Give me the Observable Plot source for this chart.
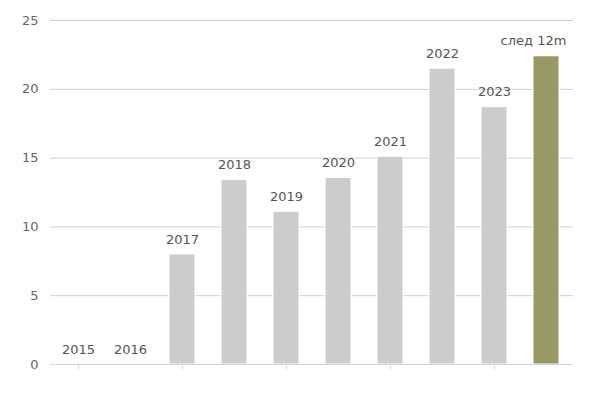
<!DOCTYPE html>
<html>
<head>
<meta charset="utf-8">
<script src="https://cdn.jsdelivr.net/npm/d3@7"></script>
<script src="https://cdn.jsdelivr.net/npm/@observablehq/plot@0.6"></script>
<style>
  html, body { margin: 0; padding: 0; background: #fff; }
  #chart { width: 609px; height: 409px; }
</style>
</head>
<body>
<div id="chart"></div>
<script>
const categories = ["2015", "2016", "2017", "2018", "2019", "2020", "2021", "2022", "2023", "след 12m"];
const values = [0, 0, 8.0, 13.4, 11.1, 13.55, 15.1, 21.5, 18.7, 22.4];
const highlight = "след 12m";
const yTicks = [0, 5, 10, 15, 20, 25];
const xTicks = ["2015", "2017", "2019", "2021", "2023"];

const data = categories.map((c, i) => ({cat: c, value: values[i]}));
const regular = data.filter(d => d.cat !== highlight);
const last = data.filter(d => d.cat === highlight);

const chart = Plot.plot({
  width: 609,
  height: 409,
  marginLeft: 50,
  marginRight: 36,
  marginTop: 20,
  marginBottom: 45,
  style: {fontFamily: "DejaVu Sans", fontSize: "13px", background: "#fff"},
  x: {domain: categories, paddingInner: 0.5, paddingOuter: 0.25, axis: null},
  y: {domain: [0, 25], axis: null},
  marks: [
    Plot.gridY(yTicks, {stroke: "#d0d0d0", strokeOpacity: 1, strokeWidth: 1}),
    Plot.axisY(yTicks, {tickSize: 0, tickPadding: 12, fill: "#666", fontSize: 13, label: null}),
    Plot.barY(data, {x: "cat", y: "value", fill: d => d.cat === highlight ? "#999966" : "#cccccc", stroke: "#fff", strokeWidth: 1}),
    Plot.ruleY([0], {stroke: "#ccd6eb", strokeWidth: 1}),
    Plot.axisX(xTicks, {tickSize: 5, stroke: "#ccd6eb", tickFormat: () => "", strokeOpacity: 1, label: null}),
    Plot.text(regular, {x: "cat", y: "value", text: "cat", dy: -15, fill: "#555", fontSize: 13}),
    Plot.text(last, {x: "cat", y: "value", text: "cat", dy: -15, dx: -13, fill: "#555", fontSize: 13})
  ]
});
document.getElementById("chart").appendChild(chart);
</script>
</body>
</html>
